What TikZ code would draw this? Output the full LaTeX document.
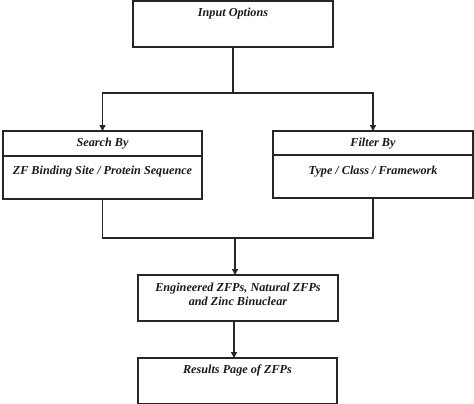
\documentclass[tikz,border=0pt]{standalone}
\usepackage{fontspec}
\setmainfont{Liberation Serif}
\usetikzlibrary{arrows.meta}
\begin{document}
\begin{tikzpicture}[x=1pt,y=-1pt,
  box/.style={draw=black!85, line width=1.3pt, rectangle, inner sep=0pt, outer sep=0pt},
  txt/.style={font=\fontsize{12.2}{14}\selectfont\bfseries\itshape, inner sep=0pt, align=center, text=black!90},
  conn/.style={draw=black!85, line width=1.3pt},
  arr/.style={conn, -{Triangle[length=6pt,width=6pt]}}]
\useasboundingbox (0,0) rectangle (474,404);
% boxes
\node[box, minimum width=200pt, minimum height=46pt, anchor=north west] (inp) at (133,1) {};
\node[txt] (inpt) at (233,14) {Input Options};
\node[box, minimum width=199pt, minimum height=25pt, anchor=north west] (sh) at (3,131) {};
\node[box, minimum width=199pt, minimum height=43pt, anchor=north west] (sb) at (3,156) {};
\node[txt] (sht) at (102.5,144) {Search By};
\node[txt] (sbt) at (102.5,172) {ZF Binding Site / Protein Sequence};
\node[box, minimum width=200pt, minimum height=24pt, anchor=north west] (fh) at (273,131) {};
\node[box, minimum width=200pt, minimum height=43pt, anchor=north west] (fb) at (273,155) {};
\node[txt] (fht) at (373,143.5) {Filter By};
\node[txt] (fbt) at (373,171.5) {Type / Class / Framework};
\node[box, minimum width=200pt, minimum height=46pt, anchor=north west] (eng) at (138,275) {};
\node[txt] (engt) at (238,294.5) {Engineered ZFPs, Natural ZFPs\\and Zinc Binuclear};
\node[box, minimum width=199pt, minimum height=46pt, anchor=north west] (res) at (138,358) {};
\node[txt] (rest) at (237.5,370.5) {Results Page of ZFPs};
% connectors
\coordinate (j1) at (233,93);
\coordinate (j2) at (235,238);
\draw[conn] (inp.south) -- (j1);
\draw[arr] (j1) -| (sh.north);
\draw[arr] (j1) -| (fh.north);
\draw[conn] (sb.south) |- (j2);
\draw[conn] (fb.south) |- (j2);
\draw[arr] (j2) -- (j2 |- eng.north);
\draw[arr] (eng.south -| 234,0) -- (res.north -| 234,0);
\end{tikzpicture}
\end{document}
